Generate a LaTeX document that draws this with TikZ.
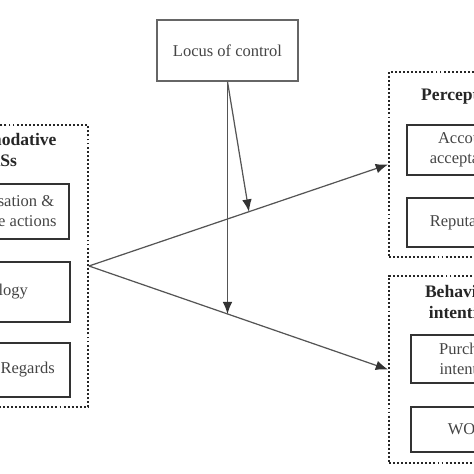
\documentclass[tikz,border=0pt]{standalone}
\usepackage{fontspec}
\setmainfont{Liberation Serif}
\usetikzlibrary{arrows.meta,calc}
\definecolor{inkgray}{HTML}{444444}
\definecolor{linegray}{HTML}{555555}
\tikzset{
  item/.style={draw=black!80, line width=1.3pt, text=inkgray, align=center, inner sep=0pt},
  group/.style={draw=black!85, line width=1.1pt, dash pattern=on 1.1pt off 1.2pt, inner sep=0pt},
  head/.style={font=\bfseries, text=black!85, align=center},
  link/.style={draw=linegray, line width=0.7pt, -{Latex[length=7pt,width=5.5pt,color=black!80]}}
}
\begin{document}
\begin{tikzpicture}[x=0.02cm, y=-0.02cm, font=\fontsize{9.4}{11.4}\selectfont]
\useasboundingbox (0,0) rectangle (474,474);
\clip (0,0) rectangle (474,474);
% moderator
\node[item, draw=black!60, line width=0.7pt, minimum width=2.82cm, minimum height=1.22cm] (locus) at (227.5, 50.5) {Locus of control};
% accommodative strategies
\node[group, minimum width=3.56cm, minimum height=5.64cm] (accom) at (-1, 266) {};
\node[head] (accomhead) at (-4, 150) {Accommodative\\CRSs};
\node[item, minimum width=2.84cm, minimum height=1.1cm] (comp) at (-2, 211.5) {Compensation \&\\corrective actions};
\node[item, minimum width=2.84cm, minimum height=1.2cm] (apol) at (-1, 292) {Apology};
\node[item, minimum width=2.84cm, minimum height=1.08cm] (regd) at (-1, 370) {Positive Regards};
% perceptions
\node[group, minimum width=3.04cm, minimum height=3.7cm] (perc) at (465, 164.5) {};
\node[head] (perchead) at (465, 96) {Perceptions};
\node[item, minimum width=2.36cm, minimum height=1.0cm] (acct) at (466, 150) {Account\\acceptance};
\node[item, minimum width=2.36cm, minimum height=0.98cm] (repu) at (466, 222.5) {Reputation};
% behavioral intentions
\node[group, minimum width=3.12cm, minimum height=3.74cm] (behav) at (467, 369.5) {};
\node[head] (behavhead) at (466, 302) {Behavioral\\intentions};
\node[item, minimum width=2.32cm, minimum height=0.96cm] (purch) at (469, 359) {Purchase\\intention};
\node[item, minimum width=2.32cm, minimum height=0.9cm] (wom) at (469, 429.5) {WOM};
% paths
\draw[link] (accom.east) -- (perc.west);
\draw[link] (accom.east) -- (behav.west);
\coordinate (upmod) at ($(accom.east)!0.535!(perc.west)$);
\coordinate (lowmod) at ($(accom.east)!0.465!(behav.west)$);
\draw[link] (locus.south) -- (upmod);
\draw[link] (locus.south) -- (locus.south |- lowmod);
\end{tikzpicture}
\end{document}
